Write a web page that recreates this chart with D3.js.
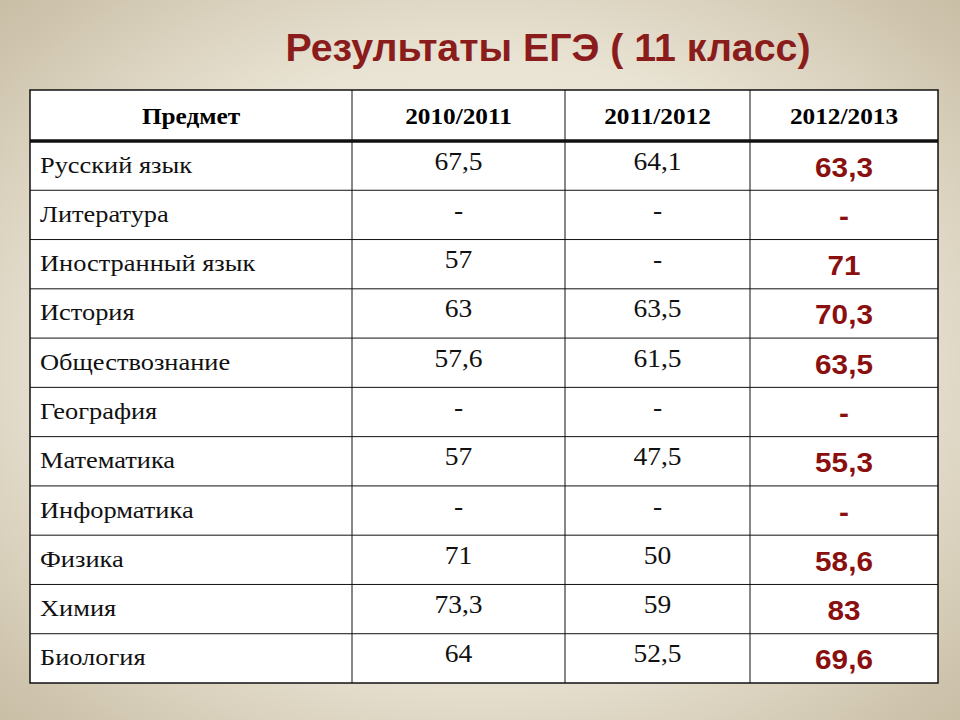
<!DOCTYPE html>
<html><head><meta charset="utf-8">
<script src="https://cdn.jsdelivr.net/npm/d3@7/dist/d3.min.js"></script>
<style>body{margin:0}svg{display:block}</style></head>
<body><svg id="c" width="960" height="720"></svg>
<script>
const title = "Результаты ЕГЭ ( 11 класс)";
const headers = ["Предмет","2010/2011","2011/2012","2012/2013"];
const subjects = ["Русский язык","Литература","Иностранный язык","История","Обществознание","География","Математика","Информатика","Физика","Химия","Биология"];
const y2011 = ["67,5","-","57","63","57,6","-","57","-","71","73,3","64"];
const y2012 = ["64,1","-","-","63,5","61,5","-","47,5","-","50","59","52,5"];
const y2013 = ["63,3","-","71","70,3","63,5","-","55,3","-","58,6","83","69,6"];

const serif = "Liberation Serif, Times New Roman, serif";
const sans = "Liberation Sans, Arial, sans-serif";
const svg = d3.select("#c");
const defs = svg.append("defs");
const g = defs.append("radialGradient").attr("id","bg").attr("cx","50%").attr("cy","50%").attr("r","70%");
g.append("stop").attr("offset","0%").attr("stop-color","#f7f4ec");
g.append("stop").attr("offset","60%").attr("stop-color","#e9e3d3");
g.append("stop").attr("offset","100%").attr("stop-color","#c9bea6");
svg.append("rect").attr("width",960).attr("height",720).attr("fill","url(#bg)");

svg.append("text").attr("x",548).attr("y",61).attr("text-anchor","middle")
  .attr("font-family",sans).attr("font-weight","bold")
  .attr("font-size",38).attr("textLength",525).attr("lengthAdjust","spacingAndGlyphs")
  .attr("fill","#8a1c1c").text(title);

const colEdges = [30,352,565,750,938];
const headerTop = 90, headerBottom = 141, tableBottom = 683;
const y = d3.scaleBand().domain(d3.range(subjects.length)).range([headerBottom, tableBottom]);

svg.append("rect").attr("x",colEdges[0]).attr("y",headerTop).attr("width",colEdges[4]-colEdges[0])
  .attr("height",tableBottom-headerTop).attr("fill","#fff");

// horizontally stretched text helper
function txt(x, yy, s, opts){
  const t = svg.append("text").attr("transform",`translate(${x},${yy}) scale(1.1,1)`)
    .attr("font-family",opts.f).attr("font-size",opts.s).attr("fill",opts.c||"#111")
    .attr("text-anchor",opts.a||"start").text(s);
  if(opts.b) t.attr("font-weight","bold");
}

headers.forEach((h,i)=>txt((colEdges[i]+colEdges[i+1])/2,(headerTop+headerBottom)/2+8,h,{f:serif,s:23,b:true,a:"middle",c:"#000"}));

const rows = subjects.map((s,i)=>[s,y2011[i],y2012[i],y2013[i]]);
rows.forEach((r,i)=>{
  const cy = y(i)+y.bandwidth()/2;
  txt(40,cy+7,r[0],{f:serif,s:24});
  [1,2].forEach(c=>txt((colEdges[c]+colEdges[c+1])/2,cy+4,r[c],{f:serif,s:25,a:"middle"}));
  txt((colEdges[3]+colEdges[4])/2,cy+11,r[3],{f:sans,s:27,b:true,a:"middle",c:"#8a1010"});
});

const ln = (x1,y1,x2,y2,w)=>svg.append("line").attr("x1",x1).attr("y1",y1).attr("x2",x2).attr("y2",y2)
  .attr("stroke","#111").attr("stroke-width",w);
subjects.forEach((s,i)=>{ if(i>0) ln(colEdges[0],y(i),colEdges[4],y(i),1); });
colEdges.slice(1,4).forEach(x=>ln(x,headerTop,x,tableBottom,1));
ln(colEdges[0],headerBottom,colEdges[4],headerBottom,3.5);
svg.append("rect").attr("x",colEdges[0]).attr("y",headerTop).attr("width",colEdges[4]-colEdges[0])
  .attr("height",tableBottom-headerTop).attr("fill","none").attr("stroke","#111").attr("stroke-width",1.5);
</script></body></html>
